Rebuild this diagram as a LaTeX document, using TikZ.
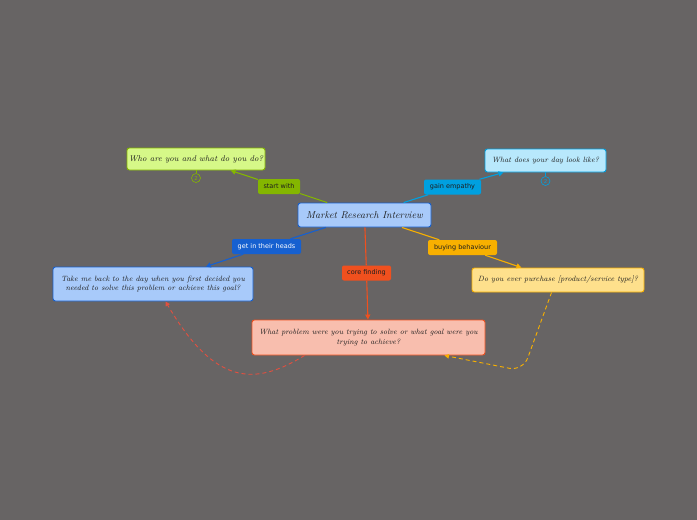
\documentclass[tikz,border=0pt]{standalone}
\usepackage{fontspec}
\newfontfamily\labfont{DejaVu Sans}
\usetikzlibrary{arrows.meta,calc}
\definecolor{bg}{RGB}{103,100,100}
\definecolor{cblueF}{RGB}{168,202,250}
\definecolor{cblueD}{RGB}{22,96,208}
\definecolor{cgreenF}{RGB}{214,248,136}
\definecolor{cgreenD}{RGB}{132,182,0}
\definecolor{ccyanF}{RGB}{184,232,252}
\definecolor{ccyanD}{RGB}{0,160,224}
\definecolor{corgF}{RGB}{248,190,174}
\definecolor{corgD}{RGB}{240,80,30}
\definecolor{cyelF}{RGB}{254,224,140}
\definecolor{cyelD}{RGB}{248,176,0}
\definecolor{cred}{RGB}{226,80,64}
\definecolor{txt}{RGB}{30,30,30}
\tikzset{
  topic/.style={draw, line width=0.9pt, rounded corners=2.5pt, inner sep=0pt, align=center, text=txt, font=\itshape\fontsize{7.6}{9.5}\selectfont},
  lab/.style={rounded corners=2pt, inner sep=0pt, minimum height=15pt, font=\labfont\fontsize{6.5}{7}\selectfont},
  conn/.style={line width=1.1pt, -{Triangle[length=5pt,width=5pt]}},
  plain/.style={line width=1.1pt},
  dconn/.style={line width=0.9pt, dash pattern=on 4pt off 3pt, -{Triangle[length=4.5pt,width=4.5pt]}},
  badge/.style={circle, draw, line width=0.6pt, inner sep=0pt, minimum size=9pt, font=\labfont\fontsize{5.5}{5.5}\selectfont}
}
\begin{document}
\begin{tikzpicture}[x=1pt,y=-1pt]
\fill[bg] (0,0) rectangle (697,520);
\useasboundingbox (0,0) rectangle (697,520);

% topics
\node[topic, fill=cblueF, draw=cblueD, minimum width=133pt, minimum height=24pt, font=\itshape\fontsize{10}{12}\selectfont] (main) at (364.5,215) {Market Research Interview};
\node[topic, fill=cgreenF, draw=cgreenD, minimum width=138pt, minimum height=22pt, font=\itshape\fontsize{8.3}{10}\selectfont] (who) at (196,159) {Who are you and what do you do?};
\node[topic, fill=ccyanF, draw=ccyanD, minimum width=121pt, minimum height=23pt] (day) at (545.5,160.5) {What does your day look like?};
\node[topic, fill=cblueF, draw=cblueD, minimum width=200pt, minimum height=34pt] (back) at (153,284) {Take me back to the day when you first decided you\\needed to solve this problem or achieve this goal?};
\node[topic, fill=corgF, draw=corgD, minimum width=233pt, minimum height=35pt] (prob) at (368.5,337.5) {What problem were you trying to solve or what goal were you\\trying to achieve?};
\node[topic, fill=cyelF, draw=cyelD, minimum width=172pt, minimum height=24pt] (buy) at (558,280) {Do you ever purchase [product/service type]?};

% badges
\node[badge, draw=cgreenD, text=cgreenD] (b1) at (196,178) {2};
\node[badge, draw=ccyanD, text=ccyanD] (b2) at (545.5,181) {2};
\draw[cgreenD, line width=0.6pt] (who.south) -- (b1.north);
\draw[ccyanD, line width=0.6pt] (day.south) -- (b2.north);

% labels
\node[lab, fill=cgreenD, text=txt, minimum width=42pt] (l1) at (279,186.5) {start with};
\node[lab, fill=ccyanD, text=txt, minimum width=57pt] (l2) at (452.5,187) {gain empathy};
\node[lab, fill=cblueD, text=white, minimum width=69pt] (l3) at (266.5,246.5) {get in their heads};
\node[lab, fill=corgD, text=txt, minimum width=49pt] (l4) at (366.5,273) {core finding};
\node[lab, fill=cyelD, text=txt, minimum width=69pt] (l5) at (462.5,247.5) {buying behaviour};

% connectors
\draw[plain, cgreenD] (main) -- (l1);
\draw[conn, cgreenD] (l1) -- (who);
\draw[plain, ccyanD] (main) -- (l2);
\draw[conn, ccyanD] (l2) -- (day);
\draw[plain, cblueD] (main) -- (l3);
\draw[conn, cblueD] (l3) -- (back);
\draw[plain, corgD] (main) -- (l4);
\draw[conn, corgD] (l4) -- (prob);
\draw[plain, cyelD] (main) -- (l5);
\draw[conn, cyelD] (l5) -- (buy);

% dashed relations
\draw[dconn, cred] ([xshift=53pt]prob.south west) .. controls (255,386) and (215,386) .. ([xshift=113pt]back.south west);
\draw[dconn, cyelD, rounded corners=14pt] ([xshift=80pt]buy.south west) -- (523,371) -- ([xshift=-41pt]prob.south east);
\end{tikzpicture}
\end{document}
